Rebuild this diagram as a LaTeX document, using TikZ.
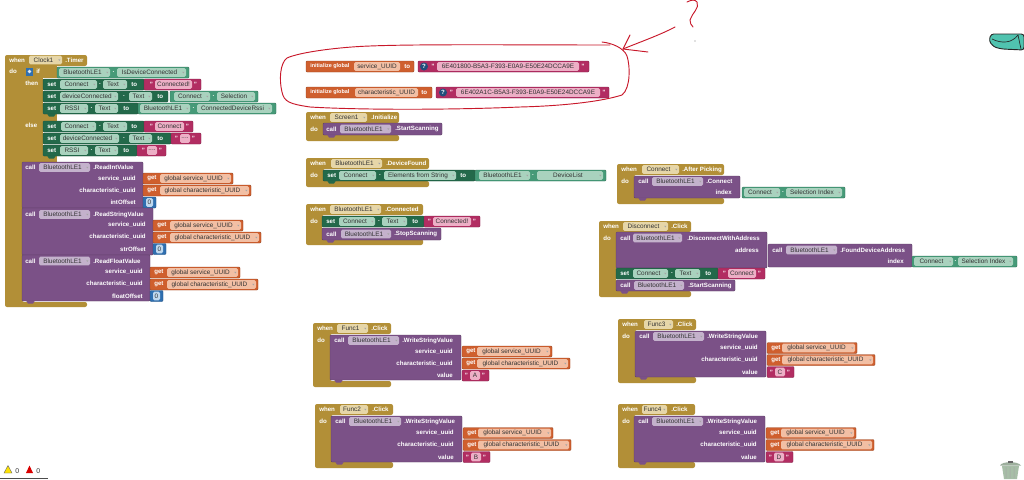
\documentclass[tikz,border=0pt]{standalone}
\usepackage{fontspec}
\setmainfont{Liberation Sans}
\definecolor{cMust}{HTML}{B28F37}
\definecolor{cDark}{HTML}{23694A}
\definecolor{cTeal}{HTML}{469A78}
\definecolor{cPurp}{HTML}{7B5187}
\definecolor{cOran}{HTML}{CF5F2E}
\definecolor{cMage}{HTML}{B22D62}
\definecolor{cBlue}{HTML}{2F6FB0}
\definecolor{cRed}{HTML}{C8182A}
\definecolor{fMust}{HTML}{E6D6A8}
\definecolor{fGreen}{HTML}{A9D2BE}
\definecolor{fPurp}{HTML}{C4B2CC}
\definecolor{fOran}{HTML}{F2BFA4}
\definecolor{fMage}{HTML}{EDAFC6}
\definecolor{fBlue}{HTML}{BFD8EE}
\tikzset{
  pane/.style={fill=#1,draw=#1!75!black,line width=0.35pt,rounded corners=0.8},
  lbl/.style={text=white,font=\fontsize{4.6}{5}\selectfont\bfseries,inner sep=0pt},
  lblsmall/.style={text=white,font=\fontsize{4.1}{5}\selectfont\bfseries,inner sep=0pt},
  fldtxt/.style={text=black!80,font=\fontsize{4.8}{5}\selectfont,inner sep=0pt},
  ink/.style={draw=cRed,line width=0.7pt,line cap=round,line join=round}
}
% rectangle in pixel coordinates
\newcommand{\bx}[5]{\draw[pane=#1] ({#2},{#3}) rectangle ({#4},{#5});}
% white label: left anchored / right anchored
\newcommand{\tl}[3]{\node[lbl,anchor=west] at ({#1},{#2}) {#3};}
\newcommand{\tr}[3]{\node[lbl,anchor=east] at ({#1},{#2}) {#3};}
% field: colour, x1, x2, y, text (dropdown mark at the right)
\newcommand{\fd}[5]{\fill[#1,rounded corners=1] ({#2},{#4-4.3}) rectangle ({#3},{#4+4.3});
  \node[fldtxt] at ({(#2+#3)/2-2},{#4}) {#5};
  \fill[black!35] ({#3-3.8},{#4-0.7}) -- ({#3-1.6},{#4-0.7}) -- ({#3-2.7},{#4+0.9}) -- cycle;}
% plain text field without dropdown
\newcommand{\fp}[5]{\fill[#1,rounded corners=1] ({#2},{#4-4.3}) rectangle ({#3},{#4+4.3});
  \node[fldtxt] at ({(#2+#3)/2},{#4}) {#5};}
% notch beneath a statement block
\newcommand{\nt}[3]{\fill[#1] ({#2+4},{#3-0.5}) -- ({#2+6},{#3+2.5}) -- ({#2+11},{#3+2.5}) -- ({#2+13},{#3-0.5}) -- cycle;}
% event frame: x1,xr,ytop,ybot,xbody
\newcommand{\ev}[5]{\fill[cMust,rounded corners=1.5] (#1,#3) -- (#2,#3) -- (#2,#3+11) -- (#5,#3+11) -- (#5,#4-6) -- (#2,#4-6) -- (#2,#4) -- (#1,#4) -- cycle;
  \tl{#1+4}{#3+5.5}{when}\tl{#1+4}{#3+17}{do}}
% string block: x1 x2 y1 y2 f1 f2 text
\newcommand{\strb}[7]{\bx{cMage}{#1}{#3}{#2}{#4}
  \node[lbl] at ({#5-3.5},{(#3+#4)/2}) {"};
  \node[lbl] at ({#6+3.5},{(#3+#4)/2}) {"};
  \fp{fMage}{#5}{#6}{(#3+#4)/2}{#7}}
% "get global ..." block
\newcommand{\getb}[6]{\bx{cOran}{#1}{#3}{#2}{#4}
  \tl{#1+4}{(#3+#4)/2}{get}\fd{fOran}{#5}{#2-2}{(#3+#4)/2}{#6}}
% blue number
\newcommand{\numb}[3]{\bx{cBlue}{#1}{#2-5.5}{#1+13}{#2+5.5}\fp{fBlue}{#1+3}{#1+10}{#2}{#3}}
% set row
\newcommand{\setrow}[4]{\bx{cDark}{#1}{#2}{#4}{#3}\tl{#1+4}{(#2+#3)/2}{set}}
% WriteStringValue block: px prx ytop yfirst fieldL fieldR ytail letter
\newcommand{\ws}[8]{%
  \bx{cPurp}{#1}{#3}{#2}{#7}\nt{cPurp}{#1}{#7}
  \tl{#1+4}{#3+5.5}{call}\fd{fPurp}{#5}{#6}{#3+5.5}{BluetoothLE1}\tl{#6+3}{#3+5.5}{.WriteStringValue}
  \tr{#2-8}{#4}{service\_uuid}\tr{#2-8}{#4+12}{characteristic\_uuid}\tr{#2-8}{#4+24}{value}
  \getb{#2+1}{#2+91}{#4-5.5}{#4+5.5}{#2+16}{global service\_UUID}
  \getb{#2+1}{#2+109}{#4+6.5}{#4+17.5}{#2+16}{global characteristic\_UUID}
  \strb{#2+1}{#2+28}{#4+18.5}{#4+29.5}{#2+9}{#2+19}{#8}}
\begin{document}
\begin{tikzpicture}[x=0.75pt,y=-0.75pt]
\useasboundingbox (0,0) rectangle (1024,479);
\fill[white] (0,0) rectangle (1024,479);

%% Clock1 block
\fill[cMust,rounded corners=1.5] (5,55) -- (87,55) -- (87,66) -- (22,66) -- (22,302) -- (87,302) -- (87,307) -- (5,307) -- cycle;
\tl{9}{60}{when}\fd{fMust}{29}{62}{60}{Clock1}\tl{65}{60}{.Timer}\tl{9}{71.5}{do}
\fill[cMust] (22,66) rectangle (43,161);
\fill[cMust] (22,66) rectangle (57,78);
\fill[cMust] (22,114) rectangle (57,121);
\fill[cMust] (22,156) rectangle (57,162);
\fill[cBlue] (26,67.5) rectangle (33,75.5);\fill[white!85!cBlue] (29.5,71.5) circle (1.9);
\tl{36}{71.5}{if}
\tl{25}{83}{then}\tl{25}{125}{else}
\bx{cTeal}{57}{67}{189}{78}
\fd{fGreen}{59}{110}{72.5}{BluetoothLE1}\node[lbl] at (113.5,72.5) {.};\fd{fGreen}{117}{186}{72.5}{IsDeviceConnected}
% then rows
\setrow{43}{79}{90}{144}\fd{fGreen}{60}{97}{84.5}{Connect}\node[lbl] at (100,84.5) {.};\fd{fGreen}{103}{127}{84.5}{Text}\tl{131}{84.5}{to}
\strb{144}{201}{79}{90}{155}{192}{Connected!}
\setrow{43}{91}{102}{168}\fd{fGreen}{60}{118}{96.5}{deviceConnected}\node[lbl] at (124,96.5) {.};\fd{fGreen}{129}{152}{96.5}{Text}\tl{157}{96.5}{to}
\bx{cTeal}{170}{91}{258}{102}\fd{fGreen}{174}{210}{96.5}{Connect}\node[lbl] at (213.5,96.5) {.};\fd{fGreen}{217}{255}{96.5}{Selection}
\setrow{43}{103}{114}{138}\fd{fGreen}{60}{88}{108.5}{RSSI}\node[lbl] at (91.5,108.5) {.};\fd{fGreen}{95}{118}{108.5}{Text}\tl{123}{108.5}{to}
\bx{cTeal}{138}{103}{276}{114}\fd{fGreen}{140}{190}{108.5}{BluetoothLE1}\node[lbl] at (193.5,108.5) {.};\fd{fGreen}{197}{272}{108.5}{ConnectedDeviceRssi}
\nt{cDark}{43}{114}
% else rows
\setrow{43}{121}{132}{144}\fd{fGreen}{61}{96}{126.5}{Connect}\node[lbl] at (100,126.5) {.};\fd{fGreen}{103}{127}{126.5}{Text}\tl{131}{126.5}{to}
\strb{144}{193}{121}{132}{155}{184}{Connect}
\setrow{43}{133}{144}{171}\fd{fGreen}{60}{119}{138.5}{deviceConnected}\node[lbl] at (124,138.5) {.};\fd{fGreen}{129}{152}{138.5}{Text}\tl{157}{138.5}{to}
\strb{171}{201}{133}{144}{180}{190}{....}
\setrow{43}{145}{156}{137}\fd{fGreen}{60}{88}{150.5}{RSSI}\node[lbl] at (91.5,150.5) {.};\fd{fGreen}{95}{118}{150.5}{Text}\tl{123}{150.5}{to}
\strb{137}{166}{145}{156}{147}{157}{....}
\nt{cDark}{43}{156}
% calls
\bx{cPurp}{22}{162}{143}{208}
\tl{25}{167.5}{call}\fd{fPurp}{39}{90}{167.5}{BluetoothLE1}\tl{93}{167.5}{.ReadIntValue}
\tr{136}{178.5}{service\_uuid}\tr{136}{190.5}{characteristic\_uuid}\tr{136}{202}{intOffset}
\getb{143}{233}{173}{184}{160}{global service\_UUID}
\getb{143}{251}{185}{196}{160}{global characteristic\_UUID}
\numb{143}{202.5}{0}
\bx{cPurp}{22}{208}{153}{255}
\tl{25}{214.5}{call}\fd{fPurp}{39}{90}{214.5}{BluetoothLE1}\tl{93}{214.5}{.ReadStringValue}
\tr{146}{225}{service\_uuid}\tr{146}{237}{characteristic\_uuid}\tr{146}{249}{strOffset}
\getb{153}{243}{220}{231}{170}{global service\_UUID}
\getb{153}{261}{232}{243}{170}{global characteristic\_UUID}
\numb{153}{249}{0}
\bx{cPurp}{22}{255}{150}{301}
\tl{25}{261}{call}\fd{fPurp}{39}{90}{261}{BluetoothLE1}\tl{93}{261}{.ReadFloatValue}
\tr{143}{272}{service\_uuid}\tr{143}{284}{characteristic\_uuid}\tr{143}{296}{floatOffset}
\getb{150}{240}{267}{278}{167}{global service\_UUID}
\getb{150}{258}{279}{290}{167}{global characteristic\_UUID}
\numb{150}{296}{0}
\nt{cPurp}{22}{301}

%% globals
\bx{cOran}{306}{61}{414}{72}
\node[lblsmall,anchor=west] at (310,66.5) {initialize global};\fp{fOran}{354}{400}{66.5}{service\_UUID}\tl{404}{66.5}{to}
\bx{cMage}{418}{61}{589}{72}
\fill[cBlue!70!black] (424,66.5) circle (4);\node[lbl] at (424,66.5) {?};
\node[lbl] at (433,66.5) {"};\fp{fMage}{437}{579}{66.5}{6E401800-B5A3-F393-E0A9-E50E24DCCA9E}\node[lbl] at (583,66.5) {"};
\bx{cOran}{306}{87}{432}{98}
\node[lblsmall,anchor=west] at (310,92.5) {initialize global};\fp{fOran}{355}{418}{92.5}{characteristic\_UUID}\tl{421}{92.5}{to}
\bx{cMage}{436}{87}{609}{98}
\fill[cBlue!70!black] (443,92.5) circle (4);\node[lbl] at (443,92.5) {?};
\node[lbl] at (451.5,92.5) {"};\fp{fMage}{456}{600}{92.5}{6E402A1C-B5A3-F393-E0A9-E50E24DCCA9E}\node[lbl] at (604,92.5) {"};

%% Screen1.Initialize
\ev{306}{399}{112}{141}{323}
\fd{fMust}{330}{367}{117.5}{Screen1}\tl{371}{117.5}{.Initialize}
\bx{cPurp}{323}{123}{442}{135}\nt{cPurp}{323}{135}
\tl{326}{129}{call}\fd{fPurp}{340}{391}{129}{BluetoothLE1}\tl{395}{129}{.StartScanning}

%% DeviceFound
\ev{306}{429}{158}{187}{323}
\fd{fMust}{331}{382}{163.5}{BluetoothLE1}\tl{386}{163.5}{.DeviceFound}
\setrow{323}{170}{181}{475}\nt{cDark}{323}{181}
\fd{fGreen}{339}{376}{175.5}{Connect}\node[lbl] at (380,175.5) {.};\fd{fGreen}{384}{456}{175.5}{Elements from String}\tl{460}{175.5}{to}
\bx{cTeal}{475}{170}{606}{181}\fd{fGreen}{479}{530}{175.5}{BluetoothLE1}\node[lbl] at (533,175.5) {.};\fd{fGreen}{537}{603}{175.5}{DeviceList}

%% Connected
\ev{306}{423}{204}{245}{322}
\fd{fMust}{330}{381}{209.5}{BluetoothLE1}\tl{385}{209.5}{.Connected}
\setrow{322}{216}{227}{424}
\fd{fGreen}{339}{375}{221.5}{Connect}\node[lbl] at (379,221.5) {.};\fd{fGreen}{382}{407}{221.5}{Text}\tl{412}{221.5}{to}
\strb{424}{480}{216}{227}{433}{471}{Connected!}
\bx{cPurp}{322}{228}{441}{240}\nt{cPurp}{322}{240}
\tl{326}{234}{call}\fd{fPurp}{341}{391}{234}{BluetoothLE1}\tl{394}{234}{.StopScanning}

%% After Picking
\ev{617}{724}{164}{204}{634}
\fd{fMust}{642}{679}{169.5}{Connect}\tl{682}{169.5}{.After Picking}
\bx{cPurp}{634}{176}{740}{198}\nt{cPurp}{634}{198}
\tl{638}{181.5}{call}\fd{fPurp}{652}{703}{181.5}{BluetoothLE1}\tl{706}{181.5}{.Connect}
\tr{732}{192.5}{index}
\bx{cTeal}{742}{187}{845}{198}\fd{fGreen}{744}{780}{192.5}{Connect}\node[lbl] at (783,192.5) {.};\fd{fGreen}{786}{842}{192.5}{Selection Index}

%% Disconnect
\ev{599}{691}{221}{297}{616}
\fd{fMust}{623}{668}{226.5}{Disconnect}\tl{671}{226.5}{.Click}
\bx{cPurp}{616}{232}{767}{268}
\tl{620}{238}{call}\fd{fPurp}{633}{682}{238}{BluetoothLE1}\tl{687}{238}{.DisconnectWithAddress}
\tr{759}{250}{address}
\bx{cPurp}{768}{244}{912}{267}
\tl{772}{250}{call}\fd{fPurp}{786}{837}{250}{BluetoothLE1}\tl{840}{250}{.FoundDeviceAddress}
\tr{904}{261.5}{index}
\bx{cTeal}{912}{256}{1017}{267}\fd{fGreen}{914}{953}{261.5}{Connect}\node[lbl] at (955.5,261.5) {.};\fd{fGreen}{958}{1013}{261.5}{Selection Index}
\setrow{616}{268}{279}{718}\fd{fGreen}{633}{668}{273.5}{Connect}\node[lbl] at (672,273.5) {.};\fd{fGreen}{675}{700}{273.5}{Text}\tl{705}{273.5}{to}
\strb{718}{765}{268}{279}{728}{756}{Connect}
\bx{cPurp}{616}{280}{735}{291}\nt{cPurp}{616}{291}
\tl{620}{285.5}{call}\fd{fPurp}{634}{684}{285.5}{BluetoothLE1}\tl{688}{285.5}{.StartScanning}

%% Func1-4
\ev{313}{391}{323}{387}{330}
\fd{fMust}{337}{368}{328.5}{Func1}\tl{371}{328.5}{.Click}
\ws{330}{461}{335}{351.5}{348}{399}{380}{A}
\ev{315}{393}{404}{468}{331}
\fd{fMust}{340}{368}{409.5}{Func2}\tl{372}{409.5}{.Click}
\ws{331}{462}{416}{433}{349}{401}{462}{B}
\ev{618}{696}{319}{383}{635}
\fd{fMust}{644}{673}{324.5}{Func3}\tl{676}{324.5}{.Click}
\ws{635}{766}{331}{348}{653}{704}{377}{C}
\ev{618}{695}{404}{468}{634}
\fd{fMust}{642}{667}{409.5}{Func4}\tl{671}{409.5}{.Click}
\ws{634}{765}{416}{433}{652}{703}{462}{D}

%% red ink
\draw[ink] (610,45) .. controls (520,45) and (420,44) .. (370,46) .. controls (340,47) and (300,52) .. (287,58) .. controls (280,63) and (279,80) .. (282,92) .. controls (284,102) and (290,104) .. (310,107) .. controls (360,110) and (450,110) .. (520,107) .. controls (560,106) and (600,102) .. (622,95) .. controls (631,88) and (630,65) .. (627,56) .. controls (624,48) and (612,43) .. (602,42);
\draw[ink] (675,27) .. controls (660,35) and (640,42) .. (623,49);
\draw[ink] (630,35) -- (623,49) -- (648,52);
\draw[ink] (687,2) .. controls (691,0) and (695,-1) .. (697,2) .. controls (700,8) and (692,13) .. (690,20) .. controls (690,23) and (691,25) .. (693,27);
\fill[black!50] (695,41) circle (0.6);

%% backpack
\draw[fill=cTeal!70!cyan!85!white,draw=black!85,line width=0.7pt,rounded corners=2] (991,34) -- (1024,34) -- (1024,50) -- (1002,49) -- (994,47) -- (989,41) -- cycle;
\draw[black!85,line width=0.5pt] (992,39) .. controls (1002,44) and (1012,43) .. (1018,35);
\draw[black!85,line width=0.5pt] (1018,35) -- (1021,49);

%% warnings
\fill[yellow!85!orange] (4,473) -- (8,465.5) -- (12,473) -- cycle;
\draw[black!60,line width=0.3pt] (4,473) -- (8,465.5) -- (12,473) -- cycle;
\node[fldtxt,font=\fontsize{5.2}{6}\selectfont,anchor=base west] at (15,473) {0};
\fill[red!85!black] (26,473) -- (29.5,465.5) -- (33,473) -- cycle;
\node[fldtxt,font=\fontsize{5.2}{6}\selectfont,anchor=base west] at (36,473) {0};
\draw[black!70,line width=0.7pt] (0,478) -- (48,478);

%% trash can
\fill[green!15!gray!60!white] (1002,466) -- (1019,466) -- (1017,479) -- (1004,479) -- cycle;
\foreach \q in {1006,1010,1014} \draw[black!35,line width=0.4pt] (\q,467) -- (\q+0.2,478);
\fill[green!10!gray!70] (1000,465.5) .. controls (1002,461) and (1018,461) .. (1021,465.5) -- cycle;
\fill[black!60] (1008,460.5) rectangle (1013,462.5);
\end{tikzpicture}
\end{document}
